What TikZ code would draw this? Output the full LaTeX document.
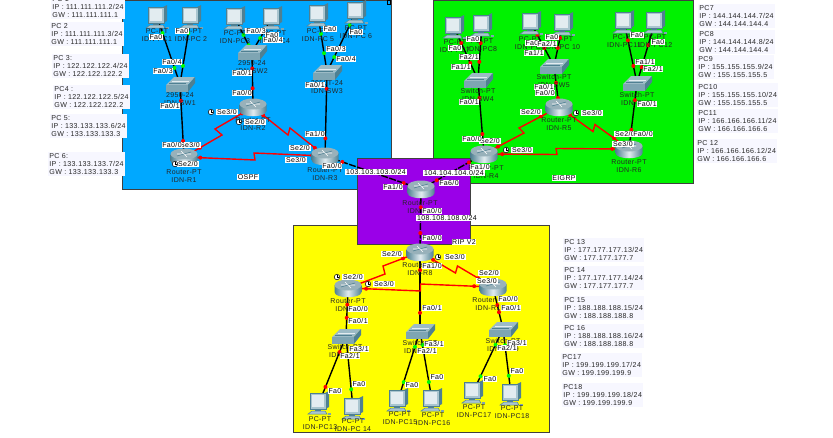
\documentclass[tikz,border=0pt]{standalone}
\usepackage{fontspec}
\setmainfont[LetterSpace=5]{Liberation Sans}
\usetikzlibrary{calc,backgrounds}
\pgfdeclarelayer{zones}\pgfdeclarelayer{links}
\pgfsetlayers{zones,links,main}
\definecolor{zblue}{HTML}{00A8FF}
\definecolor{zgreen}{HTML}{00F200}
\definecolor{zpurple}{HTML}{9A00E8}
\definecolor{zyellow}{HTML}{FFFF00}
\definecolor{ibg}{HTML}{F7F7FF}
\definecolor{ic1}{HTML}{4F8092}
\definecolor{ic2}{HTML}{7EA5B3}
\definecolor{ic3}{HTML}{A9C5CF}
\definecolor{ic4}{HTML}{E2ECF0}
\newcounter{lbn}
\tikzset{
  zone/.style={draw=black!75,line width=.8pt},
  dev/.style={inner sep=0pt,outer sep=0pt,minimum width=24pt,minimum height=20pt},
  lbl/.style={fill=white,inner sep=.7pt,font=\fontsize{7}{8}\selectfont,text=black},
  capt/.style={inner sep=0pt,align=center,font=\fontsize{7}{8}\selectfont,text=black!85},
  infob/.style={fill=ibg,inner sep=1.2pt,anchor=north west,align=left,font=\fontsize{7.1}{8.1}\selectfont,text=black!85},
  eth/.style={black,line width=1.4pt},
  cross/.style={black,line width=1.4pt,dash pattern=on 7pt off 1.5pt},
  ser/.style={red,line width=1.4pt},
  dot/.style={circle,inner sep=0pt,minimum size=4pt},
  rd/.style={dot,fill=red},
  gd/.style={dot,fill=green},
  clock/.style={circle,draw=black,fill=white,line width=.5pt,inner sep=0pt,minimum size=5.5pt},
  pcicon/.pic={
    \fill[ic1] (6,-10) -- (10,-12) -- (10,4) -- (6,6) -- cycle;
    \fill[ic3] (-9,-10) rectangle (7,6);
    \draw[ic1,line width=.4pt] (-9,-10) rectangle (7,6);
    \fill[ic4] (-7,-8) rectangle (5,4);
    \fill[ic1] (-4,6) rectangle (2,8);
    \filldraw[fill=ic3,draw=ic1,line width=.5pt] (-7,8) -- (6,8) -- (8,11) -- (-11,11) -- cycle;
    \fill[ic2] (9,10) rectangle (12,12);
  },
  rticon/.pic={
    \path[left color=ic1,right color=ic1,middle color=ic4]
      (-13.5,-3) -- (-13.5,4) .. controls (-13.5,11) and (13.5,11) .. (13.5,4) -- (13.5,-3) -- cycle;
    \fill[ic3!90!black] (0,-3) ellipse [x radius=13.5pt,y radius=5.5pt];
    \draw[white,line width=.6pt] (-7,-3) -- (7,-3) (-3,-6) -- (3,0);
    \draw[ic1,line width=.6pt] (-7,-1) -- (7,-5);
  },
  swicon/.pic={
    \fill[ic3!85!ic1] (-6,-7) -- (15,-7) -- (8,1) -- (-14,1) -- cycle;
    \fill[ic2] (-14,1) rectangle (8,8);
    \fill[ic1] (8,1) -- (15,-7) -- (15,-1) -- (8,8) -- cycle;
    \draw[ic4,line width=.4pt] (-8,-3) -- (9,-3);
    \draw[ic1,line width=.4pt] (-11,-1) -- (6,-1);
  }
}
\newcommand\PCn[3]{\node[dev] (#1) at (#2,#3) {}; \pic at (#1.center) {pcicon};}
\newcommand\RTn[3]{\node[dev] (#1) at (#2,#3) {}; \pic at (#1.center) {rticon};}
\newcommand\SWn[3]{\node[dev] (#1) at (#2,#3) {}; \pic at (#1.center) {swicon};}
\newcommand\lb[3]{\stepcounter{lbn}\node[lbl] (lb\arabic{lbn}) at (#1,#2) {#3};}
\newcommand\clk[2]{\stepcounter{lbn}\node[clock] (lb\arabic{lbn}) at (#1,#2) {}; \draw[black,line width=.4pt] (lb\arabic{lbn}.center) -- ++(1.6,0) (lb\arabic{lbn}.center) -- ++(0,-1.9);}
\newcommand\cpt[5]{\node[capt] (cap#1) at (#2,#3) {#4\\#5};}
\newcommand\infob[6]{\node[infob] (inf#1) at (#2,#3) {#4\\#5\\#6};}
% ethernet: a b posA styleA posB styleB
\newcommand\ethl[6]{\begin{pgfonlayer}{links}\draw[eth] (#1.center) -- (#2.center) node[#4,pos=#3] {} node[#6,pos=#5] {};\end{pgfonlayer}}
\newcommand\crs[4]{\begin{pgfonlayer}{links}\draw[cross] (#1.center) -- (#2.center) node[rd,pos=#3] {} node[rd,pos=#4] {};\end{pgfonlayer}}
% serial: a b dx dy posA posB
\newcommand\serl[6]{\begin{pgfonlayer}{links}\draw[ser,line join=miter] (#1.center) -- ($(#1.center)!.5!(#2.center)+(#3,#4)$) node[rd,pos=#5] {} -- ($(#1.center)!.5!(#2.center)-(#3,#4)$) -- (#2.center) node[rd,pos=#6] {};\end{pgfonlayer}}
\begin{document}
\begin{tikzpicture}[x=1pt,y=-1pt]
\useasboundingbox (0,0) rectangle (833,437);
\begin{pgfonlayer}{zones}
\fill[white] (0,0) rectangle (833,437);
\path[zone,fill=zblue] (122,0) rectangle (391.5,189);
\path[zone,fill=zgreen] (433,0) rectangle (693,183.5);
\path[zone,fill=zyellow] (293,225) rectangle (549,432);
\path[zone,fill=zpurple] (357,158) rectangle (470,244);
\draw[black,line width=.5pt] (387,0) rectangle (390.5,4);
\end{pgfonlayer}
% devices
\PCn{pc1}{157}{17}\PCn{pc2}{191}{17}\PCn{pc3}{235}{18}\PCn{pc4}{272}{18}\PCn{pc5}{318}{15}\PCn{pc6}{356}{12}
\PCn{pc7}{454}{27}\PCn{pc8}{482}{25}\PCn{pc9}{531}{23}\PCn{pc10}{563}{24}\PCn{pc11}{624}{22}\PCn{pc12}{655}{22}
\PCn{pc13}{319}{403}\PCn{pc14}{353}{408}\PCn{pc15}{398}{400}\PCn{pc16}{432}{400}\PCn{pc17}{473}{392}\PCn{pc18}{511}{394}
\SWn{sw1}{180}{84}\SWn{sw2}{252}{52}\SWn{sw3}{327}{72}\SWn{sw4}{478}{80}\SWn{sw5}{554}{66}\SWn{sw6}{637}{83}
\SWn{sw7}{346}{336}\SWn{sw8}{420}{331}\SWn{sw9}{503}{329}
\RTn{r1}{184}{157}\RTn{r2}{253}{107}\RTn{r3}{325}{156}\RTn{r4}{484}{154}\RTn{r5}{559}{107}\RTn{r6}{629}{149}
\RTn{r7}{421}{189}\RTn{r8}{420}{252}\RTn{r9}{348}{288}\RTn{r10}{493}{287}
% ethernet links
\ethl{pc1}{sw1}{.24}{gd}{.76}{gd}
\ethl{pc2}{sw1}{.24}{gd}{.73}{gd}
\ethl{pc3}{sw2}{.5}{gd}{.8}{gd}
\ethl{pc4}{sw2}{.59}{gd}{.85}{gd}
\ethl{pc5}{sw3}{.33}{gd}{.67}{gd}
\ethl{pc6}{sw3}{.22}{gd}{.75}{gd}
\ethl{sw1}{r1}{.23}{rd}{.78}{rd}
\ethl{sw2}{r2}{.3}{rd}{.66}{rd}
\ethl{sw3}{r3}{.2}{rd}{.79}{rd}
\ethl{pc7}{sw4}{.3}{rd}{.68}{rd}
\ethl{pc8}{sw4}{.33}{rd}{.67}{rd}
\ethl{sw4}{r4}{.24}{rd}{.73}{rd}
\ethl{pc9}{sw5}{.28}{rd}{.58}{rd}
\ethl{pc10}{sw5}{.33}{rd}{.57}{rd}
\ethl{sw5}{r5}{.41}{rd}{.78}{rd}
\ethl{pc11}{sw6}{.3}{rd}{.72}{rd}
\ethl{pc12}{sw6}{.38}{rd}{.74}{rd}
\ethl{sw6}{r6}{.26}{rd}{.71}{rd}
\ethl{r8}{sw8}{.23}{rd}{.77}{rd}
\ethl{r9}{sw7}{.35}{rd}{.62}{rd}
\ethl{r10}{sw9}{.43}{rd}{.6}{rd}
\ethl{sw7}{pc13}{.24}{rd}{.76}{rd}
\ethl{sw7}{pc14}{.29}{rd}{.74}{gd}
\ethl{sw8}{pc15}{.23}{gd}{.74}{gd}
\ethl{sw8}{pc16}{.2}{gd}{.74}{gd}
\ethl{sw9}{pc17}{.25}{gd}{.75}{gd}
\ethl{sw9}{pc18}{.25}{gd}{.72}{gd}
\crs{r3}{r7}{.18}{.82}
\crs{r7}{r4}{.25}{.76}
\crs{r7}{r8}{.29}{.70}
% serial links
\serl{r1}{r2}{3.5}{3}{.42}{.71}
\serl{r1}{r3}{.5}{3.5}{.23}{.82}
\serl{r2}{r3}{-1}{3.5}{.29}{.71}
\serl{r4}{r5}{2.5}{2.5}{.35}{.55}
\serl{r5}{r6}{-1}{3.5}{.32}{.56}
\serl{r4}{r6}{.5}{3}{.25}{.77}
\serl{r8}{r9}{-1}{-4}{.46}{.78}
\serl{r8}{r10}{-1}{3.5}{.37}{.58}
\serl{r9}{r10}{0}{3.5}{.25}{.74}
% captions
\cpt{pc1}{157}{35.5}{PC-PT}{IDN-PC1}
\cpt{pc2}{191}{35.5}{PC-PT}{IDN-PC 2}
\cpt{pc3}{235}{37}{PC-PT}{IDN-PC3}
\cpt{pc4}{275}{37}{PC-PT}{IDN-PC4}
\cpt{pc5}{318}{35}{PC-PT}{IDN-PC 5}
\cpt{pc6}{356}{32}{PC-PT}{IDN-PC 6}
\cpt{sw1}{180}{99.5}{2950-24}{IDN-SW1}
\cpt{sw2}{252}{67}{2950-24}{IDN-SW2}
\cpt{sw3}{327}{87}{2950T-24}{IDN-SW3}
\cpt{r1}{184}{176.5}{Router-PT}{IDN-R1}
\cpt{r2}{253}{124}{Router-PT}{IDN-R2}
\cpt{r3}{325}{174}{Router-PT}{IDN-R3}
\cpt{pc7}{455}{46}{PC-PT}{IDN-PC7}
\cpt{pc8}{482}{45}{PC-PT}{IDN-PC8}
\cpt{pc9}{530}{43.5}{PC-PT}{IDN-PC9}
\cpt{pc10}{562}{43.5}{PC-PT}{IDN-PC 10}
\cpt{pc11}{624}{41.5}{PC-PT}{IDN-PC11}
\cpt{pc12}{655}{41.5}{PC-PT}{IDN-PC12}
\cpt{sw4}{478}{95}{Switch-PT}{IDN-SW4}
\cpt{sw5}{554}{81}{Switch-PT}{IDN-SW5}
\cpt{sw6}{637}{98.5}{Switch-PT}{IDN-SW6}
\cpt{r4}{486}{172}{Router-PT}{IDN-R4}
\cpt{r5}{559}{124.5}{Router-PT}{IDN-R5}
\cpt{r6}{629}{166.5}{Router-PT}{IDN-R6}
\cpt{r7}{420}{207}{Router-PT}{IDN-R7}
\cpt{r8}{420}{269.5}{Router-PT}{IDN-R8}
\cpt{r9}{348}{305.5}{Router-PT}{IDN-R9}
\cpt{r10}{490}{304.5}{Router-PT}{IDN-R10}
\cpt{sw7}{345}{351}{Switch-PT}{IDN-SW7}
\cpt{sw8}{420}{347}{Switch-PT}{IDN-SW8}
\cpt{sw9}{503}{345}{Switch-PT}{IDN-SW9}
\cpt{pc13}{320}{423}{PC-PT}{IDN-PC13}
\cpt{pc14}{353}{425.5}{PC-PT}{IDN-PC 14}
\cpt{pc15}{400}{418}{PC-PT}{IDN-PC15}
\cpt{pc16}{433}{419}{PC-PT}{IDN-PC16}
\cpt{pc17}{474}{411.5}{PC-PT}{IDN-PC17}
\cpt{pc18}{512}{412.5}{PC-PT}{IDN-PC18}
% interface labels: OSPF
\lb{156}{37}{Fa0}\lb{182}{31}{Fa0}\lb{172}{62}{Fa0/4}\lb{163}{71}{Fa0/3}\lb{170}{106}{Fa0/1}
\lb{190}{145}{Se3/0}\lb{172}{145}{Fa0/0}\lb{188}{164}{Se2/0}\clk{175}{164}
\lb{227}{112}{Se3/0}\clk{211}{112}\lb{255}{122}{Se2/0}\clk{239}{122}
\lb{252}{31}{Fa0}\lb{272}{35}{Fa0}\lb{256}{31}{Fa0/3}\lb{273}{40}{Fa0/4}\lb{242}{73}{Fa0/1}\lb{242}{93}{Fa0/0}
\lb{330}{29}{Fa0}\lb{356}{32}{Fa0}\lb{336}{49}{Fa0/3}\lb{346}{59}{Fa0/4}\lb{315}{85}{Fa0/1}
\lb{315}{134}{Fa1/0}\lb{300}{148}{Se2/0}\lb{296}{160}{Se3/0}\lb{332}{166}{Fa0/0}
\lb{376}{172}{103.103.103.0/24}\lb{248}{177}{OSPF}
% centre
\lb{393}{187}{Fa1/0}\lb{449}{183}{Fa6/0}\lb{454}{173}{104.104.104.0/24}\lb{432}{211}{Fa0/0}
\lb{447}{218}{108.108.108.0/24}\lb{432}{238}{Fa0/0}\lb{464}{242}{RIP V2}
% EIGRP
\lb{455}{48}{Fa0}\lb{473}{39}{Fa0}\lb{469}{57}{Fa2/1}\lb{461}{67}{Fa1/1}
\lb{469}{102}{Fa0/1}\lb{490}{141}{Se2/0}\lb{472}{139}{Fa0/0}\lb{522}{150}{Se3/0}\clk{506}{150}
\lb{480}{167}{Fa1/0}\lb{564}{178}{EIGRP}
\lb{532}{43}{Fa0}\lb{552}{37}{Fa0}\lb{547}{44}{Fa2/1}\lb{534}{53}{Fa1/1}
\lb{545}{93}{Fa0/0}\lb{544}{87}{Fa0/1}\lb{531}{112}{Se2/0}\lb{592}{113}{Se3/0}\clk{576}{113}
\lb{637}{35}{Fa0}\lb{658}{42}{Fa0}\lb{645}{62}{Fa1/1}\lb{653}{69}{Fa2/1}\lb{647}{104}{Fa0/1}
\lb{625}{134}{Se2/0}\lb{643}{134}{Fa0/0}\lb{623}{144}{Se3/0}
% RIP
\lb{392}{254}{Se2/0}\lb{455}{257}{Se3/0}\clk{438}{257}\lb{432}{266}{Fa1/0}
\lb{353}{277}{Se2/0}\clk{337}{277}\lb{384}{284}{Se3/0}\clk{368}{284}
\lb{358}{309}{Fa0/0}\lb{358}{321}{Fa0/1}\lb{359}{349}{Fa3/1}\lb{350}{356}{Fa2/1}\lb{335}{391}{Fa0}\lb{359}{384}{Fa0}
\lb{432}{308}{Fa0/1}\lb{434}{344}{Fa3/1}\lb{427}{351}{Fa2/1}\lb{412}{385}{Fa0}\lb{437}{377}{Fa0}
\lb{489}{273}{Se2/0}\lb{487}{281}{Se3/0}\lb{508}{299}{Fa0/0}\lb{511}{308}{Fa0/1}
\lb{517}{343}{Fa3/1}\lb{507}{348}{Fa2/1}\lb{490}{379}{Fa0}\lb{517}{371}{Fa0}
% address boxes
\infob{1}{51}{-5}{PC 1}{IP : 111.111.111.2/24}{GW : 111.111.111.1}
\infob{2}{50}{22}{PC 2}{IP : 111.111.111.3/24}{GW : 111.111.111.1}
\infob{3}{52}{54}{PC 3:}{IP : 122.122.122.4/24}{GW : 122.122.122.2}
\infob{4}{53}{85}{PC4 :}{IP : 122.122.122.5/24}{GW : 122.122.122.2}
\infob{5}{50}{114}{PC 5:}{IP : 133.133.133.6/24}{GW : 133.133.133.3}
\infob{6}{48}{152}{PC 6:}{IP : 133.133.133.7/24}{GW : 133.133.133.3}
\infob{7}{698}{4}{PC7}{IP : 144.144.144.7/24}{GW : 144.144.144.4}
\infob{8}{698}{30}{PC8}{IP : 144.144.144.8/24}{GW : 144.144.144.4}
\infob{9}{697}{55}{PC9}{IP : 155.155.155.9/24}{GW : 155.155.155.5}
\infob{10}{697}{83}{PC10}{IP : 155.155.155.10/24}{GW : 155.155.155.5}
\infob{11}{697}{109}{PC11}{IP : 166.166.166.11/24}{GW : 166.166.166.6}
\infob{12}{696}{139}{PC 12}{IP : 166.166.166.12/24}{GW : 166.166.166.6}
\infob{13}{563}{238}{PC 13}{IP : 177.177.177.13/24}{GW : 177.177.177.7}
\infob{14}{563}{266}{PC 14}{IP : 177.177.177.14/24}{GW : 177.177.177.7}
\infob{15}{563}{296}{PC 15}{IP : 188.188.188.15/24}{GW : 188.188.188.8}
\infob{16}{563}{324}{PC 16}{IP : 188.188.188.16/24}{GW : 188.188.188.8}
\infob{17}{561}{353}{PC17}{IP : 199.199.199.17/24}{GW : 199.199.199.9}
\infob{18}{562}{383}{PC18}{IP : 199.199.199.18/24}{GW : 199.199.199.9}
\end{tikzpicture}
\end{document}
